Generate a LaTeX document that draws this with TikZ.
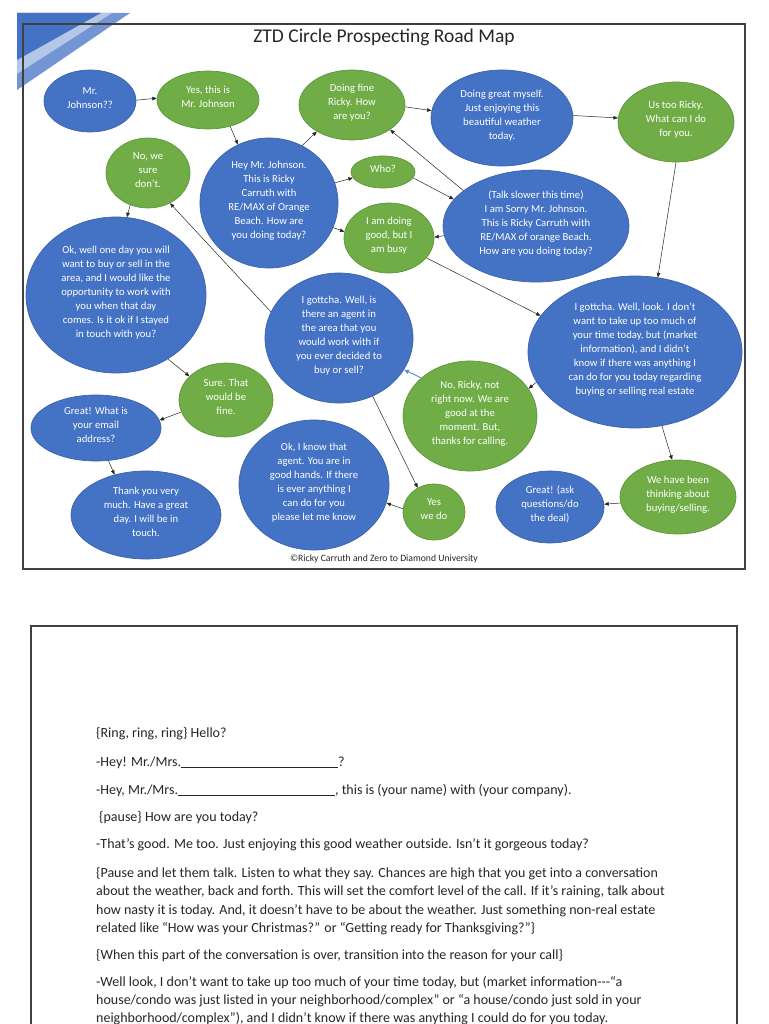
\documentclass[tikz,border=0pt]{standalone}
\usepackage{fontspec}
\setmainfont{Carlito}
\usetikzlibrary{shapes.geometric,arrows.meta}
\definecolor{zblue}{HTML}{4472C4}
\definecolor{zblueD}{HTML}{3A62AA}
\definecolor{zgreen}{HTML}{70AD47}
\definecolor{zgreenD}{HTML}{5E9638}
\definecolor{zink}{HTML}{262626}
\definecolor{zlink}{HTML}{5B86D6}
\newcommand{\ztx}[1]{\smash{\makebox[0pt]{\begin{tabular}{@{}c@{}}#1\end{tabular}}}}
\newcommand{\zblank}{\rule[-1.8pt]{157pt}{0.9pt}}
\tikzset{
  bub/.style={ellipse, line width=0.7pt, inner sep=0pt, text=white,
    font=\fontsize{10.7}{14}\selectfont},
  bb/.style={bub, fill=zblue, draw=zblueD},
  gb/.style={bub, fill=zgreen, draw=zgreenD},
  sz/.style 2 args={minimum width=#1pt, minimum height=#2pt},
  conn/.style={-{Triangle[length=4.5pt,width=3.6pt]}, line width=0.5pt, draw=black!85},
  bconn/.style={-{Triangle[length=5pt,width=4pt]}, line width=0.9pt, draw=zlink},
  frame/.style={draw=black!75, line width=1.1pt},
  script/.style={anchor=base west, inner sep=0pt, text=zink, font=\fontsize{14}{16}\selectfont},
}
\begin{document}
\begin{tikzpicture}[x=1pt,y=-1pt]
\useasboundingbox (0,0) rectangle (768,1024);
\fill[white] (0,0) rectangle (768,1024);
% decoration
\fill[zblue!75!white] (17,13) -- (130,13) -- (17,90) -- cycle;
\fill[zblue!40!white] (17,13) -- (112,13) -- (17,74) -- cycle;
\fill[zblue] (17,13) -- (101,13) -- (17,60) -- cycle;
% frames
\draw[frame] (23,24) rectangle (745,569);
\draw[frame] (31,626) rectangle (737,1040);
% title
\node[inner sep=0pt, text=zink, font=\fontsize{19.5}{21}\selectfont] (title) at (384,37) {ZTD Circle Prospecting Road Map};
\node[inner sep=0pt, text=zink, font=\fontsize{9.7}{11}\selectfont] (foot) at (384,559) {©Ricky Carruth and Zero to Diamond University};
% bubbles
\node[bb, sz={92}{62}] (n1) at (90,101) {\ztx{Mr.\\Johnson??}};
\node[gb, sz={102}{58}] (n2) at (208,100) {\ztx{Yes, this is\\Mr. Johnson}};
\node[gb, sz={84}{70}] (n3) at (148,173) {\ztx{No, we\\sure\\don’t.}};
\node[bb, sz={138}{130}] (n4) at (269,203) {\ztx{Hey Mr. Johnson.\\This is Ricky\\Carruth with\\RE/MAX of Orange\\Beach. How are\\you doing today?}};
\node[gb, sz={106}{70}] (n5) at (352,105) {\ztx{Doing fine\\Ricky. How\\are you?}};
\node[bb, sz={142}{96}] (n6) at (502,118) {\ztx{Doing great myself.\\Just enjoying this\\beautiful weather\\today.}};
\node[gb, sz={116}{80}] (n7) at (676,122) {\ztx{Us too Ricky.\\What can I do\\for you.}};
\node[gb, sz={64}{32}] (n8) at (383,172) {\ztx{Who?}};
\node[gb, sz={90}{70}] (n9) at (389,238) {\ztx{I am doing\\good, but I\\am busy}};
\node[bb, sz={186}{112}] (n10) at (536,226) {\ztx{(Talk slower this time)\\I am Sorry Mr. Johnson.\\This is Ricky Carruth with\\RE/MAX of orange Beach.\\How are you doing today?}};
\node[bb, sz={180}{156}] (n11) at (116,295) {\ztx{Ok, well one day you will\\want to buy or sell in the\\area, and I would like the\\opportunity to work with\\you when that day\\comes. Is it ok if I stayed\\in touch with you?}};
\node[bb, sz={148}{130}] (n12) at (339,338) {\ztx{I gottcha. Well, is\\there an agent in\\the area that you\\would work with if\\you ever decided to\\buy or sell?}};
\node[bb, sz={214}{152}] (n13) at (635,352) {\ztx{I gottcha. Well, look. I don’t\\want to take up too much of\\your time today, but (market\\information), and I didn’t\\know if there was anything I\\can do for you today regarding\\buying or selling real estate}};
\node[gb, sz={94}{74}] (n14) at (226,400) {\ztx{Sure. That\\would be\\fine.}};
\node[bb, sz={130}{66}] (n15) at (96,428) {\ztx{Great! What is\\your email\\address?}};
\node[bb, sz={150}{88}] (n16) at (146,515) {\ztx{Thank you very\\much. Have a great\\day. I will be in\\touch.}};
\node[bb, sz={150}{130}] (n17) at (314,485) {\ztx{Ok, I know that\\agent. You are in\\good hands. If there\\is ever anything I\\can do for you\\please let me know}};
\node[gb, sz={134}{110}] (n18) at (470,416) {\ztx{No, Ricky, not\\right now. We are\\good at the\\moment. But,\\thanks for calling.}};
\node[gb, sz={62}{56}] (n19) at (434,512) {\ztx{Yes\\we do}};
\node[gb, sz={116}{74}] (n20) at (678,497) {\ztx{We have been\\thinking about\\buying/selling.}};
\node[bb, sz={108}{72}] (n21) at (550,507) {\ztx{Great! (ask\\questions/do\\the deal)}};
% connectors
\draw[conn] (n1.1) -- (n2.178);
\draw[conn] (n2.-50) -- (n4.118);
\draw[conn] (n4.60) -- (n5.217);
\draw[conn] (n5.-2) -- (n6.174);
\draw[conn] (n6.2) -- (n7.176);
\draw[conn] (n7.-90) -- (n13.73);
\draw[conn] (n4.17) -- (n8.191);
\draw[conn] (n8.-11) -- (n10.162);
\draw[conn] (n10.186) -- (n9.1);
\draw[conn] (n4.-21) -- (n9.172);
\draw[conn] (n10.154) -- (n5.-33);
\draw[conn] (n9.-28) -- (n13.159);
\draw[conn] (n13.197) -- (n18.25);
\draw[conn] (n12.159) -- (n3.-54);
\draw[conn] (n3.-119) -- (n11.82);
\draw[conn] (n11.-51) -- (n14.147);
\draw[conn] (n14.195) -- (n15.7);
\draw[conn] (n15.-69) -- (n16.128);
\draw[bconn] (n18.142) -- (n12.-26);
\draw[conn] (n12.-60) -- (n19.124);
\draw[conn] (n19.174) -- (n17.-14);
\draw[conn] (n13.-70) -- (n20.99);
\draw[conn] (n20.186) -- (n21.3);
% script text
\node[script] (s1) at (96,737) {\{Ring, ring, ring\} Hello?};
\node[script] (s2) at (96,766) {-Hey! Mr./Mrs.\zblank?};
\node[script] (s3) at (96,794) {-Hey, Mr./Mrs.\zblank, this is (your name) with (your company).};
\node[script] (s4) at (99,821) {\{pause\} How are you today?};
\node[script] (s5) at (96,848) {-That’s good. Me too. Just enjoying this good weather outside. Isn’t it gorgeous today?};
\node[script] (s6) at (96,877) {\{Pause and let them talk. Listen to what they say. Chances are high that you get into a conversation};
\node[script] (s7) at (96,895) {about the weather, back and forth. This will set the comfort level of the call. If it’s raining, talk about};
\node[script] (s8) at (96,914) {how nasty it is today. And, it doesn’t have to be about the weather. Just something non-real estate};
\node[script] (s9) at (96,932) {related like “How was your Christmas?” or “Getting ready for Thanksgiving?”\}};
\node[script] (s10) at (96,959) {\{When this part of the conversation is over, transition into the reason for your call\}};
\node[script] (s11) at (96,986) {-Well look, I don’t want to take up too much of your time today, but (market information-{}-{}-“a};
\node[script] (s12) at (96,1004) {house/condo was just listed in your neighborhood/complex” or “a house/condo just sold in your};
\node[script] (s13) at (96,1022) {neighborhood/complex”), and I didn’t know if there was anything I could do for you today.};
\end{tikzpicture}
\end{document}
